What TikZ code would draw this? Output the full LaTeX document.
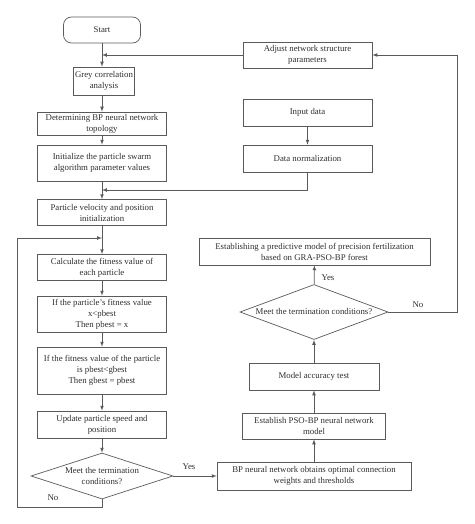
\documentclass[tikz,border=0pt]{standalone}
\usepackage{fontspec}
\setmainfont{Liberation Serif}
\usetikzlibrary{shapes.geometric,arrows}
\definecolor{linegray}{HTML}{5A5A5A}
\definecolor{textgray}{HTML}{2E2E2E}
\tikzset{
  box/.style={draw=linegray, line width=0.7pt, align=center, inner sep=1pt,
              text=textgray, font=\fontsize{8.8}{11}\selectfont},
  decision/.style={box, diamond, aspect=#1, inner sep=0pt},
  flow/.style={draw=linegray, line width=0.7pt, -latex},
  lbl/.style={text=textgray, font=\fontsize{8.8}{11}\selectfont}
}
\begin{document}
\begin{tikzpicture}[x=1pt,y=-1pt]
\useasboundingbox (0,0) rectangle (474,524);

% PSO loop (left column)
\node[box, rounded corners=8pt, minimum width=77pt, minimum height=26pt] (start) at (102,30) {Start};
\node[box, minimum width=61pt, minimum height=28pt] (grey) at (104,81) {Grey correlation\\analysis};
\node[box, minimum width=129pt, minimum height=23pt] (topo) at (102,123.5) {Determining BP neural network\\topology};
\node[box, minimum width=129pt, minimum height=36pt] (init) at (102,163) {Initialize the particle swarm\\algorithm parameter values};
\node[box, minimum width=129pt, minimum height=26pt] (pvel) at (102,212.5) {Particle velocity and position\\initialization};
\node[box, minimum width=129pt, minimum height=26pt] (fit) at (102,267.5) {Calculate the fitness value of\\each particle};
\node[box, minimum width=129pt, minimum height=36pt] (pbest) at (102,314) {If the particle’s fitness value\\x<pbest\\Then pbest = x};
\node[box, minimum width=129pt, minimum height=47pt] (gbest) at (102,370.5) {If the fitness value of the particle\\is pbest<gbest\\Then gbest = pbest};
\node[box, minimum width=129pt, minimum height=27pt] (upd) at (102,424.5) {Update particle speed and\\position};
\node[decision=3.1, minimum width=142pt, minimum height=46pt] (cond1) at (102,476) {Meet the termination\\conditions?};

% BP model (right column)
\node[box, minimum width=129pt, minimum height=26pt] (adjust) at (307.5,55) {Adjust network structure\\parameters};
\node[box, minimum width=129pt, minimum height=27pt] (input) at (307.5,112.5) {Input data};
\node[box, minimum width=129pt, minimum height=27pt] (norm) at (307.5,158.5) {Data normalization};
\node[box, minimum width=231pt, minimum height=27pt] (predict) at (314.5,251.5) {Establishing a predictive model of precision fertilization\\based on GRA-PSO-BP forest};
\node[decision=2.7, minimum width=148pt, minimum height=55pt] (cond2) at (314,312) {Meet the termination conditions?};
\node[box, minimum width=130pt, minimum height=27pt] (acc) at (314,376.5) {Model accuracy test};
\node[box, minimum width=143pt, minimum height=26pt] (pso) at (314,426) {Establish PSO-BP neural network\\model};
\node[box, minimum width=194pt, minimum height=28pt] (bpopt) at (314,476) {BP neural network obtains optimal connection\\weights and thresholds};

% Junctions
\coordinate (j1) at (102,55);
\coordinate (j2) at (102,190);
\coordinate (j3) at (102,238);
\coordinate (nocorner) at (17,507);
\coordinate (rcorner) at (457,312);

% Connectors
\draw[flow] (start.south) -- (grey.north -| start.south);
\draw[flow] (adjust.west) -- (j1);
\draw[flow] (grey.south -| topo.north) -- (topo.north);
\draw[flow] (topo) -- (init);
\draw[flow] (init) -- (pvel);
\draw[flow] (norm.south) |- (j2);
\draw[flow] (pvel) -- (fit);
\draw[flow] (fit) -- (pbest);
\draw[flow] (pbest) -- (gbest);
\draw[flow] (gbest) -- (upd);
\draw[flow] (upd) -- (cond1);
\draw[flow] (cond1.south) |- (nocorner) |- (j3);
\draw[flow] (cond1.east) -- (bpopt.west);
\draw[flow] (input) -- (norm);
\draw[flow] (bpopt) -- (pso);
\draw[flow] (pso) -- (acc);
\draw[flow] (acc) -- (cond2);
\draw[flow] (cond2) -- (predict);
\draw[flow] (cond2.east) -- (rcorner) |- (adjust.east);

% Labels
\node[lbl] (yes1) at (189,467) {Yes};
\node[lbl] (no1) at (53,498) {No};
\node[lbl] (yes2) at (328,278) {Yes};
\node[lbl] (no2) at (418,305) {No};
\end{tikzpicture}
\end{document}
